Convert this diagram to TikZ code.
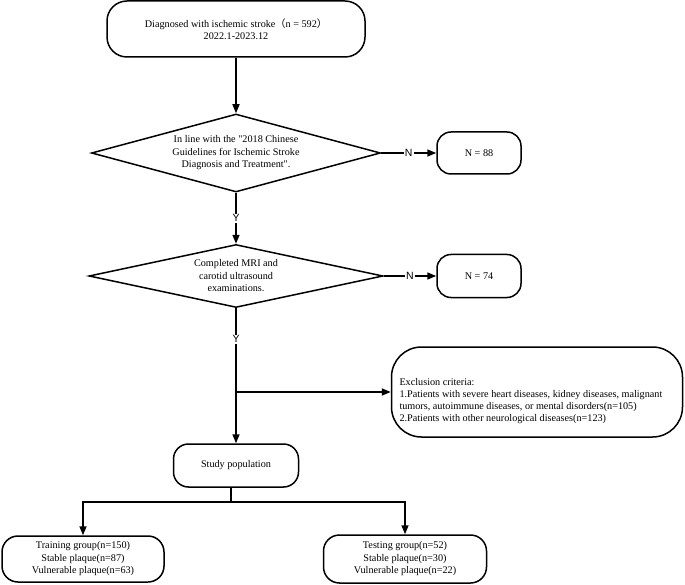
\documentclass[tikz,border=0pt]{standalone}
\usepackage{fontspec}
\setmainfont{Liberation Serif}
\newfontfamily\ynfont{Liberation Sans}
\newfontfamily\cjk{Noto Sans CJK SC}
\usetikzlibrary{shapes.geometric,positioning,arrows.meta}
\tikzstyle{box}=[draw,rounded corners=15pt,align=center,inner sep=2pt,
  font=\fontsize{10.2pt}{12.5pt}\selectfont]
\tikzstyle{cond}=[draw,diamond,aspect=3.7,inner sep=0pt,align=center,
  font=\fontsize{10.2pt}{12.5pt}\selectfont]

\begin{document}
\begin{tikzpicture}[>={Triangle[length=9pt,width=7pt]}, node distance=1cm, on grid, line width=1.5pt]
  \tikzstyle{yn}=[fill=white,inner sep=1pt,font=\ynfont\fontsize{10.5pt}{12pt}\selectfont]
  \tikzstyle{txt}=[inner sep=0pt,align=left,font=\fontsize{10.2pt}{12pt}\selectfont]
  \useasboundingbox (0,0) rectangle (685pt,-585pt);

  \node[box, minimum width=258pt, minimum height=56pt, rounded corners=20pt] (1) at (236pt,-29pt)
    {Diagnosed with ischemic stroke{\cjk（}n = 592{\cjk）}\\2022.1-2023.12};
  \node[cond, minimum width=289pt, minimum height=78pt, below=124pt of 1] (2)
    {In line with the \textquotedbl 2018 Chinese\\Guidelines for Ischemic Stroke\\Diagnosis and Treatment\textquotedbl.};
  \node[box, minimum width=84pt, minimum height=42pt, rounded corners=14pt, right=243pt of 2] (2-n) {N = 88};

  \node[cond, minimum width=294pt, minimum height=63pt, aspect=4.6, below=123pt of 2] (3)
    {Completed MRI and\\carotid ultrasound\\examinations.};
  \node[box, minimum width=84pt, minimum height=43pt, rounded corners=14pt, right=243pt of 3] (3-n) {N = 74};

  \node[box, minimum width=125pt, minimum height=43pt, below=189.5pt of 3] (4) {Study population};
  \node[box, minimum width=291pt, minimum height=90pt, rounded corners=30pt,
    above right=73.5pt and 301pt of 4] (4-x) {};
  \node[txt, anchor=west] (4-t) at ([xshift=8pt,yshift=-9pt]4-x.west)
    {Exclusion criteria:\\
     1.Patients with severe heart diseases, kidney diseases, malignant\\
     tumors, autoimmune diseases, or mental disorders(n=105)\\
     2.Patients with other neurological diseases(n=123)};

  \node[box, minimum width=162pt, minimum height=46pt, rounded corners=16pt,
    below left=93.5pt and 153pt of 4] (5-1)
    {Training group(n=150)\\Stable plaque(n=87)\\Vulnerable plaque(n=63)};
  \node[box, minimum width=163pt, minimum height=48pt, rounded corners=16pt,
    below right=93.5pt and 169pt of 4] (5-2)
    {Testing group(n=52)\\Stable plaque(n=30)\\Vulnerable plaque(n=22)};

  \draw[->] (1) -- (2);
  \draw[->] (2) -- node[yn] {N} (2-n);
  \draw[->] (2) -- node[yn] {Y} (3);
  \draw[->] (3) -- node[yn] {N} (3-n);
  \draw[->] (3) -- node[yn, pos=.23] {Y} (4);
  \coordinate (b) at (3 |- 4-x);
  \draw[->] (b) -- (4-x);

  \draw ([xshift=-5pt]4.south) -- ++(0,-14pt) coordinate (s);
  \draw[->] (s) -| (5-1);
  \draw[->] (s) -| (5-2);
\end{tikzpicture}
\end{document}
